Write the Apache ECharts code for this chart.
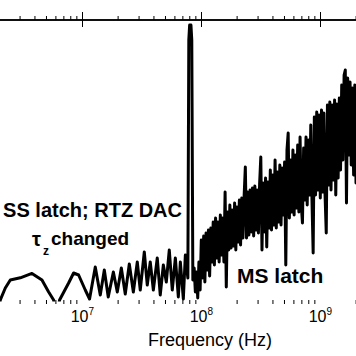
<!DOCTYPE html>
<html><head><meta charset="utf-8">
<script src="https://cdn.jsdelivr.net/npm/echarts@6/dist/echarts.min.js"></script>
<style>html,body{margin:0;padding:0;background:#fff}#c{width:356px;height:356px}</style>
</head><body><div id="c"></div>
<script>
// Frequencies are stored as log10(Hz); levels in dB (relative).
const lobeExp = [6.29, 6.311, 6.353, 6.395, 6.479, 6.577, 6.661, 6.716, 6.759, 6.784, 6.809, 6.885, 6.927, 6.969, 7.025, 7.061];
const lobeDb  = [-150, -140, -134, -130, -128.9, -126.7, -130, -135.9, -140, -150, -140, -131.5, -126.5, -127.5, -135, -139.5];

const lowBandExp = [7.109, 7.151, 7.185, 7.218, 7.261, 7.294, 7.328, 7.361, 7.395, 7.429, 7.462, 7.487, 7.521, 7.546, 7.571, 7.597, 7.630, 7.655, 7.681, 7.706, 7.731, 7.756, 7.782, 7.807, 7.824, 7.849, 7.866, 7.887];
const lowBandDb  = [-123.5, -137.5, -125, -138.5, -126, -136, -124, -137, -122, -136, -121, -135, -116, -132.5, -121, -135, -119, -137.5, -122.5, -131, -115, -135, -119, -138.5, -121, -139.5, -117.5, -129];

const spurExp = [7.895, 7.902, 7.913, 7.920, 7.929];
const spurDb  = [-10, -2.5, -2.5, -10, -130];

const highBandExp = [
  7.94, 7.95, 7.96, 7.97, 7.98, 7.99,
  8.00, 8.01, 8.02, 8.03, 8.04, 8.05, 8.06, 8.07, 8.08, 8.09,
  8.10, 8.11, 8.12, 8.13, 8.14, 8.15, 8.16, 8.17, 8.18, 8.19,
  8.20, 8.21, 8.22, 8.23, 8.24, 8.25, 8.26, 8.27, 8.28, 8.29,
  8.30, 8.31, 8.32, 8.33, 8.34, 8.35, 8.36, 8.37, 8.38, 8.39,
  8.40, 8.41, 8.42, 8.43, 8.44, 8.45, 8.46, 8.47, 8.48, 8.49,
  8.50, 8.51, 8.52, 8.53, 8.54, 8.55, 8.56, 8.57, 8.58, 8.59,
  8.60, 8.61, 8.62, 8.63, 8.64, 8.65, 8.66, 8.67, 8.68, 8.69,
  8.70, 8.71, 8.72, 8.73, 8.74, 8.75, 8.76, 8.77, 8.78, 8.79,
  8.80, 8.81, 8.82, 8.83, 8.84, 8.85, 8.86, 8.87, 8.88, 8.89,
  8.90, 8.91, 8.92, 8.93, 8.94, 8.95, 8.96, 8.97, 8.98, 8.99,
  9.00, 9.01, 9.02, 9.03, 9.04, 9.05, 9.06, 9.07, 9.08, 9.09,
  9.10, 9.11, 9.12, 9.13, 9.14, 9.15, 9.16, 9.17, 9.18, 9.19,
  9.20, 9.21, 9.22, 9.23, 9.24, 9.25, 9.26, 9.27, 9.28, 9.29,
  9.30, 9.31
];
const highBandDb = [
  -124, -136, -126, -139, -121, -135,
  -110, -129, -108, -131, -106.5, -125, -105, -128, -104, -121,
  -101, -122.5, -99, -119, -101, -121, -97.5, -117.5, -99, -121,
  -86, -133.5, -96, -115, -92.5, -114, -95, -113, -91.5, -115,
  -93.5, -111, -90, -112.5, -89, -109, -88, -73.5, -109, -86,
  -107.5, -85, -106, -84, -108, -83, -105, -85, -106.5, -82,
  -68.5, -115, -81.5, -106, -79, -113.5, -81, -104, -75, -105,
  -77.5, -102.5, -70, -104, -76, -101, -72.5, -102.5, -74, -97.5,
  -71, -122.5, -65, -56.5, -99, -70, -96, -65, -97.5, -67.5,
  -94, -62.5, -96, -58.5, -92.5, -101.5, -64, -90, -58.5, -92.5,
  -60, -87.5, -52.5, -90, -116.5, -48.5, -87.5, -46, -85, -47.5,
  -89, -45, -86, -46.5, -87.5, -106.5, -42.5, -82.5, -41, -85,
  -42.5, -80, -40, -87.5, -42, -79, -39, -75, -32.5, -70,
  -27.5, -25, -91.5, -29, -67.5, -31, -72.5, -34, -77.5, -32.5,
  -81.5, -36
];

const majorTickExps = [6, 7, 8, 9, 10];
const minorMantissas = [2, 3, 4, 5, 6, 7, 8, 9];
const xTitle = 'Frequency (Hz)';
const noteDac = 'SS latch; RTZ DAC';
const noteTau = '\u03C4';
const noteTauSub = 'z';
const noteChanged = 'changed';
const noteMs = 'MS latch';

const yMin = -140, yMax = 0;
const FONT = '"Liberation Sans", Arial, Helvetica, sans-serif';

const allExp = lobeExp.concat(lowBandExp, spurExp, highBandExp);
const allDb = lobeDb.concat(lowBandDb, spurDb, highBandDb);
const lineData = allExp.map((e, i) => [Math.pow(10, e), allDb[i]]);

const minorTicks = [];
for (let d = majorTickExps[0]; d < majorTickExps[majorTickExps.length - 1]; d++) {
  minorMantissas.forEach(m => minorTicks.push([m * Math.pow(10, d), yMin]));
}

const chart = echarts.init(document.getElementById('c'), null, {renderer: 'svg'});
const xMin = Math.pow(10, majorTickExps[0]);
const xMax = Math.pow(10, majorTickExps[majorTickExps.length - 1]);

const commonAxis = {
  type: 'log', logBase: 10, min: xMin, max: xMax,
  splitLine: {show: false},
  axisLine: {show: true, lineStyle: {color: '#000', width: 1.5}},
  axisTick: {show: true, inside: false, length: 7, lineStyle: {color: '#000', width: 1}},
  minorTick: {show: false}
};

chart.setOption({
  animation: false,
  backgroundColor: '#fff',
  grid: {left: -36.7, right: -83.3, top: 20, bottom: 56, containLabel: false, outerBoundsMode: 'none'},
  xAxis: [
    Object.assign({}, commonAxis, {
      position: 'bottom',
      axisLabel: {
        show: true, margin: 6, showMinLabel: false, showMaxLabel: false,
        formatter: v => {
          const e = Math.round(Math.log10(v));
          if (e <= majorTickExps[0] || e >= majorTickExps[majorTickExps.length - 1]) return '';
          return '{b|10}{s|' + e + '}';
        },
        rich: {
          b: {fontSize: 16, fontFamily: FONT, color: '#000', lineHeight: 20},
          s: {fontSize: 10, fontFamily: FONT, color: '#000', lineHeight: 10, verticalAlign: 'top'}
        }
      }
    }),
    Object.assign({}, commonAxis, {
      position: 'top',
      axisTick: {show: true, inside: false, length: 8, lineStyle: {color: '#000', width: 1}},
      axisLabel: {show: false}
    })
  ],
  yAxis: {type: 'value', min: yMin, max: yMax, show: false},
  series: [
    {
      type: 'line', data: lineData, showSymbol: false, symbol: 'none',
      lineStyle: {color: '#000', width: 3, join: 'round'},
      clip: true, silent: true
    },
    {
      type: 'custom', data: minorTicks, clip: false, silent: true,
      encode: {x: 0, y: 1},
      renderItem: (params, api) => {
        const f = api.value(0);
        const b = api.coord([f, yMin]);
        const t = api.coord([f, yMax]);
        return {type: 'group', children: [
          {type: 'line', shape: {x1: b[0], y1: b[1], x2: b[0], y2: b[1] + 4}, style: {stroke: '#000', lineWidth: 1}},
          {type: 'line', shape: {x1: t[0], y1: t[1], x2: t[0], y2: t[1] - 4}, style: {stroke: '#000', lineWidth: 1}}
        ]};
      }
    }
  ],
  graphic: [
    {type: 'text', x: 210, y: 339.5, style: {text: xTitle, fontSize: 18, fontFamily: FONT, fill: '#000', align: 'center', verticalAlign: 'middle', textAlign: 'center', textVerticalAlign: 'middle'}},
    {type: 'text', x: 182, y: 209.5, style: {text: noteDac, fontSize: 20, fontWeight: 'bold', fontFamily: FONT, fill: '#000', align: 'right', verticalAlign: 'middle', textAlign: 'right', textVerticalAlign: 'middle'}},
    {type: 'text', x: 32, y: 238.5, style: {text: noteTau, fontSize: 20, fontWeight: 'bold', fontFamily: FONT, fill: '#000', align: 'left', verticalAlign: 'middle', textAlign: 'left', textVerticalAlign: 'middle'}},
    {type: 'text', x: 43, y: 251, style: {text: noteTauSub, fontSize: 12, fontWeight: 'bold', fontFamily: FONT, fill: '#000', align: 'left', verticalAlign: 'middle', textAlign: 'left', textVerticalAlign: 'middle'}},
    {type: 'text', x: 51, y: 238.5, style: {text: noteChanged, fontSize: 19, fontWeight: 'bold', fontFamily: FONT, fill: '#000', align: 'left', verticalAlign: 'middle', textAlign: 'left', textVerticalAlign: 'middle'}},
    {type: 'text', x: 237, y: 275.8, style: {text: noteMs, fontSize: 21, fontWeight: 'bold', fontFamily: FONT, fill: '#000', align: 'left', verticalAlign: 'middle', textAlign: 'left', textVerticalAlign: 'middle'}}
  ]
});
</script>
</body></html>
